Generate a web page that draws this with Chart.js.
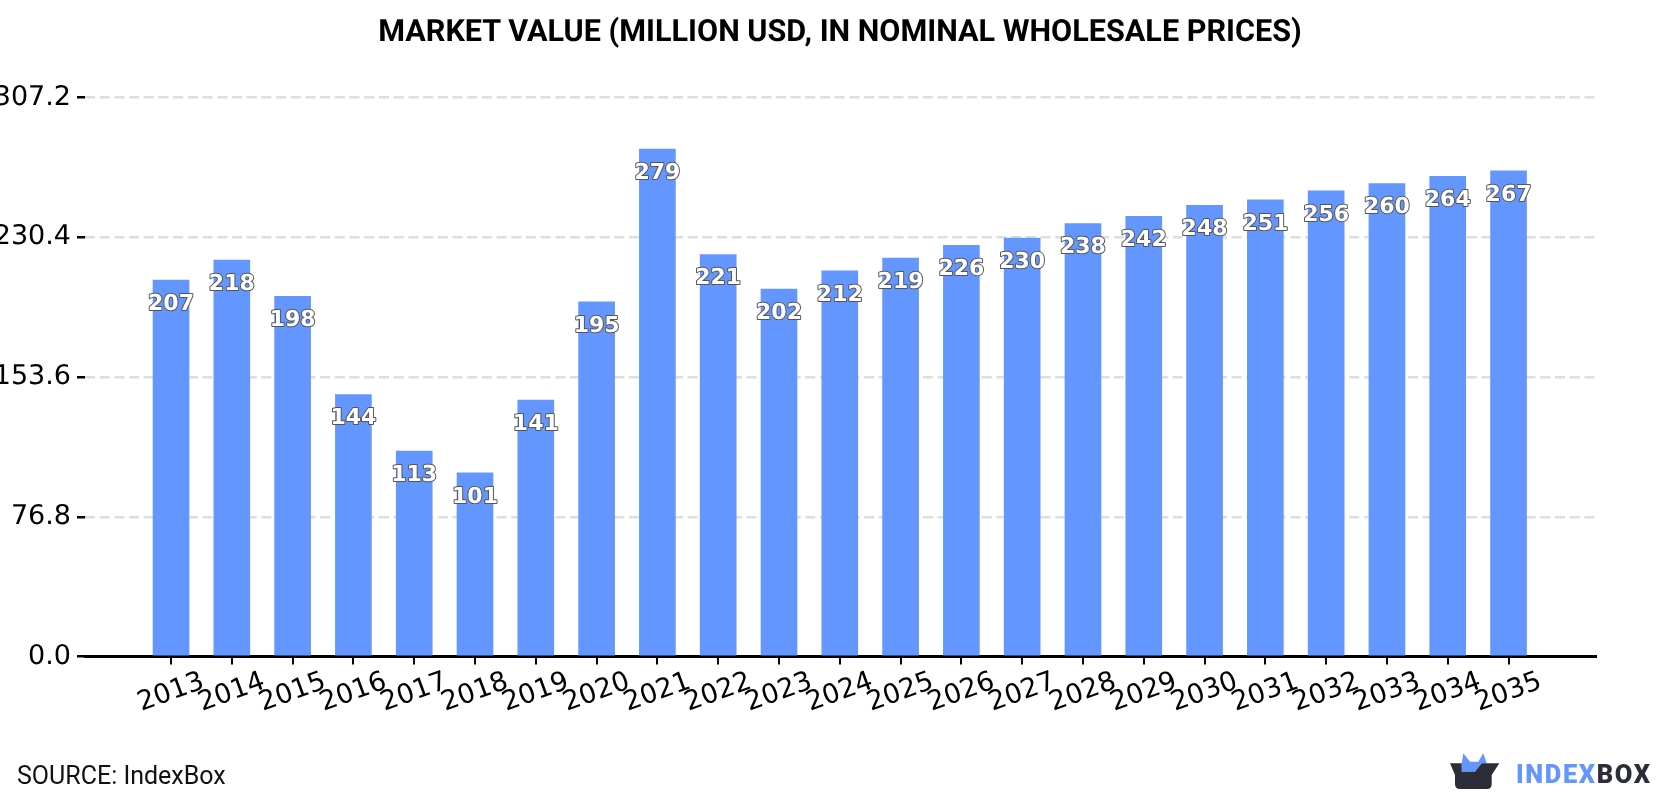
<!DOCTYPE html>
<html>
<head>
<meta charset="utf-8">
<title>Market value</title>
<script src="https://cdn.jsdelivr.net/npm/chart.js@4"></script>
<style>
html,body{margin:0;padding:0;background:#fff;overflow:hidden}
#wrap{position:relative;width:1680px;height:800px}
canvas{display:block}
#source{position:absolute;left:17px;top:762px;font:25px Roboto,sans-serif;color:#111;line-height:28px}
#brand{position:absolute;left:1516px;top:759px;font:900 25.5px Roboto,sans-serif;letter-spacing:1.6px;line-height:30px;color:#2b2d38}
#brand span{color:#6496ff}
#mark{position:absolute;left:1449px;top:752px}
</style>
</head>
<body>
<div id="wrap">
<canvas id="chart" width="1680" height="800"></canvas>
<div id="source">SOURCE: IndexBox</div>
<svg id="mark" width="52" height="38" viewBox="0 0 52 38">
  <path d="M12.7 11.3 L14.3 1.3 L21 9.7 L29.3 9.7 L34.3 1.3 L37.7 11.3 L32.7 11.3 L26 19.7 L12.7 19.7 Z" fill="#6496ff"/>
  <path d="M1 11.3 L12.7 11.3 L12.7 19.7 L26 19.7 L32.7 11.3 L50.3 11.3 L42.7 23 L42.7 32 Q42.7 37 38 37 L11 37 Q6 37 6 32 L6 23 Z" fill="#2b2d38"/>
</svg>
<div id="brand"><span>INDEX</span>BOX</div>
</div>
<script>
const years = [2013,2014,2015,2016,2017,2018,2019,2020,2021,2022,2023,2024,2025,2026,2027,2028,2029,2030,2031,2032,2033,2034,2035];
const marketValue = [207,218,198,144,113,101,141,195,279,221,202,212,219,226,230,238,242,248,251,256,260,264,267];
const yTicks = [0,76.8,153.6,230.4,307.2];
const titleText = 'MARKET VALUE (MILLION USD, IN NOMINAL WHOLESALE PRICES)';

const axisFont = {family:'"DejaVu Sans"', size:27};

// Unhinted glyph outlines keep the tilted and small text smooth.
const smoothText = {
  id:'smoothText',
  beforeDraw(chart){ chart.ctx.textRendering = 'geometricPrecision'; }
};

// White bold value labels with a grey outline, placed just under each bar top.
const valueLabels = {
  id:'valueLabels',
  afterDatasetsDraw(chart){
    const {ctx} = chart;
    const meta = chart.getDatasetMeta(0);
    ctx.save();
    ctx.font = 'bold 22px "DejaVu Sans"';
    ctx.textAlign = 'center';
    ctx.textBaseline = 'middle';
    ctx.lineJoin = 'round';
    meta.data.forEach((bar,i)=>{
      const label = String(marketValue[i]);
      ctx.lineWidth = 2;
      ctx.strokeStyle = '#555';
      ctx.strokeText(label, bar.x, bar.y + 24);
      ctx.fillStyle = '#fff';
      ctx.fillText(label, bar.x, bar.y + 24);
    });
    ctx.restore();
  }
};

new Chart(document.getElementById('chart'),{
  type:'bar',
  data:{
    datasets:[{
      data:years.map((y,i)=>({x:y,y:marketValue[i]})),
      backgroundColor:'#6496ff',
      barThickness:36,
      borderWidth:0
    }]
  },
  options:{
    responsive:false,
    animation:false,
    layout:{padding:0},
    plugins:{
      legend:{display:false},
      tooltip:{enabled:false},
      title:{
        display:true,
        text:titleText,
        color:'#000',
        font:{family:'Roboto',size:30.6,weight:'bold'},
        padding:{top:15,bottom:46}
      }
    },
    scales:{
      x:{
        type:'linear',
        offset:false,
        min:2011.585,
        max:2036.455,
        afterBuildTicks(scale){
          scale.ticks = years.map(v=>({value:v}));
          // Year labels sit centred under their ticks while tilted.
          scale._getXAxisLabelAlignment = ()=>'center';
        },
        afterFit(scale){ scale.height = 143.5; },
        grid:{display:true,offset:false,drawOnChartArea:false,drawTicks:true,tickLength:8,tickColor:'#000',tickWidth:2,lineWidth:0},
        border:{display:true,color:'#000',width:3},
        ticks:{
          autoSkip:false,
          minRotation:20,
          maxRotation:20,
          padding:13,
          color:'#000',
          font:axisFont,
          callback:v=>String(v)
        }
      },
      y:{
        min:0,
        max:307.2,
        afterBuildTicks(scale){ scale.ticks = yTicks.map(v=>({value:v})); },
        afterFit(scale){ scale.width = 85; },
        grid:{color:'#dedede',lineWidth:2.5,tickColor:'#000',tickWidth:2.5,tickLength:8,tickBorderDash:[]},
        border:{display:false,dash:[10,4.7]},
        ticks:{padding:6,color:'#000',font:axisFont,callback:v=>v.toFixed(1)}
      },
      // Empty right-hand gutter so the title stays centred on the full canvas.
      gutter:{
        position:'right',
        display:true,
        min:0,
        max:1,
        afterFit(scale){ scale.width = 83; },
        grid:{display:false,drawTicks:false},
        border:{display:false},
        ticks:{display:false}
      }
    }
  },
  plugins:[smoothText,valueLabels]
});
</script>
</body>
</html>
